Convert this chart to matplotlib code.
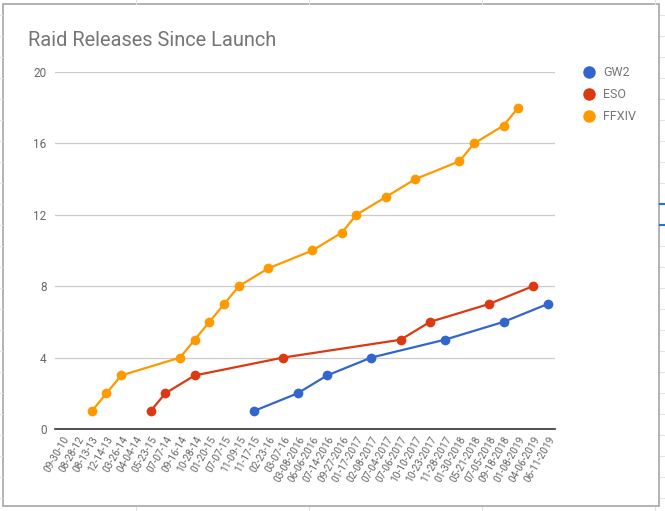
import matplotlib
matplotlib.use("Agg")
import matplotlib.pyplot as plt
from matplotlib.lines import Line2D
from matplotlib.patches import Rectangle

plt.rcParams['font.family'] = ['Roboto', 'DejaVu Sans']

# Data (category index on the shared date axis -> raid count)
DATES = ["09-30-10", "08-28-12", "08-13-13", "12-14-13", "03-26-14", "04-04-14",
         "05-23-15", "07-07-14", "09-16-14", "10-28-14", "01-20-15", "07-07-15",
         "11-09-15", "11-17-15", "02-23-16", "03-07-16", "03-08-2016", "06-06-2016",
         "07-14-2016", "09-27-2016", "01-17-2017", "02-08-2017", "07-04-2017",
         "07-06-2017", "10-10-2017", "10-23-2017", "11-28-2017", "01-30-2018",
         "05-21-2018", "07-05-2018", "09-18-2018", "01-08-2019", "04-06-2019",
         "06-11-2019"]

GW2_IDX = [13, 16, 18, 21, 26, 30, 33]
GW2_VAL = [1, 2, 3, 4, 5, 6, 7]

ESO_IDX = [6, 7, 9, 15, 23, 25, 29, 32]
ESO_VAL = [1, 2, 3, 4, 5, 6, 7, 8]

FFXIV_IDX = [2, 3, 4, 8, 9, 10, 11, 12, 14, 17, 19, 20, 22, 24, 27, 28, 30, 31]
FFXIV_VAL = [1, 2, 3, 4, 5, 6, 7, 8, 9, 10, 11, 12, 13, 14, 15, 16, 17, 18]

SERIES = [
    ("GW2", GW2_IDX, GW2_VAL, "#3366cc"),
    ("ESO", ESO_IDX, ESO_VAL, "#dc3912"),
    ("FFXIV", FFXIV_IDX, FFXIV_VAL, "#ff9900"),
]

W, H = 665, 511
fig = plt.figure(figsize=(W / 100, H / 100), dpi=100)

# faint spreadsheet cell lines around the chart
for y in range(15, H, 21):
    fig.add_artist(Line2D([0, 2 / W], [1 - y / H] * 2, color="#e3e3e3", lw=0.8))
    fig.add_artist(Line2D([660 / W, 1], [1 - y / H] * 2, color="#e3e3e3", lw=0.8))
for x in [136, 309, 482, 655]:
    fig.add_artist(Line2D([x / W] * 2, [1 - 4 / H, 1], color="#e3e3e3", lw=0.8))
    fig.add_artist(Line2D([x / W] * 2, [0, 1 - 507 / H], color="#e3e3e3", lw=0.8))
for y in [204, 225]:
    fig.add_artist(Line2D([660 / W, 1], [1 - y / H] * 2, color="#1a73e8", lw=1.5))

# chart frame
fig.add_artist(Rectangle((2.5 / W, 1 - 506 / H), 656.5 / W, 502 / H,
                         fill=False, edgecolor="#9e9e9e", lw=1.1))

ax = fig.add_axes([55 / W, 82 / H, 500 / W, 357 / H])

for name, idx, vals, color in SERIES:
    ax.plot(idx, vals, color=color, lw=1.6, marker="o", markersize=7,
            markeredgewidth=0, zorder=3)

ax.set_xlim(-0.5, len(DATES) - 0.5)
ax.set_ylim(0, 20)
ax.set_yticks([0, 4, 8, 12, 16, 20])
ax.set_xticks(range(len(DATES)))
ax.set_xticklabels(DATES, rotation=60, ha="right", rotation_mode="anchor",
                   fontsize=7.3, color="#666666")
ax.tick_params(axis="both", length=0)
ax.tick_params(axis="x", pad=4)
ax.tick_params(axis="y", pad=6, labelsize=8.5, labelcolor="#666666")
ax.grid(axis="y", color="#cccccc", lw=0.9)
ax.set_axisbelow(True)
for side in ["top", "right", "left"]:
    ax.spines[side].set_visible(False)
ax.spines["bottom"].set_color("#333333")
ax.spines["bottom"].set_linewidth(1.2)
ax.spines["bottom"].set_zorder(2)

fig.text(28 / W, 1 - 40 / H, "Raid Releases Since Launch", fontsize=14.4,
         color="#757575", va="center", ha="left")

# legend
for k, (name, idx, vals, color) in enumerate(SERIES):
    yy = 1 - (72 + 22 * k) / H
    fig.add_artist(Line2D([588.5 / W], [yy], marker="o", markersize=9,
                          markeredgewidth=0, color=color, linestyle="none"))
    fig.text(603 / W, yy, name, fontsize=9, color="#757575", va="center", ha="left")

fig.savefig("out.png", dpi=100)
